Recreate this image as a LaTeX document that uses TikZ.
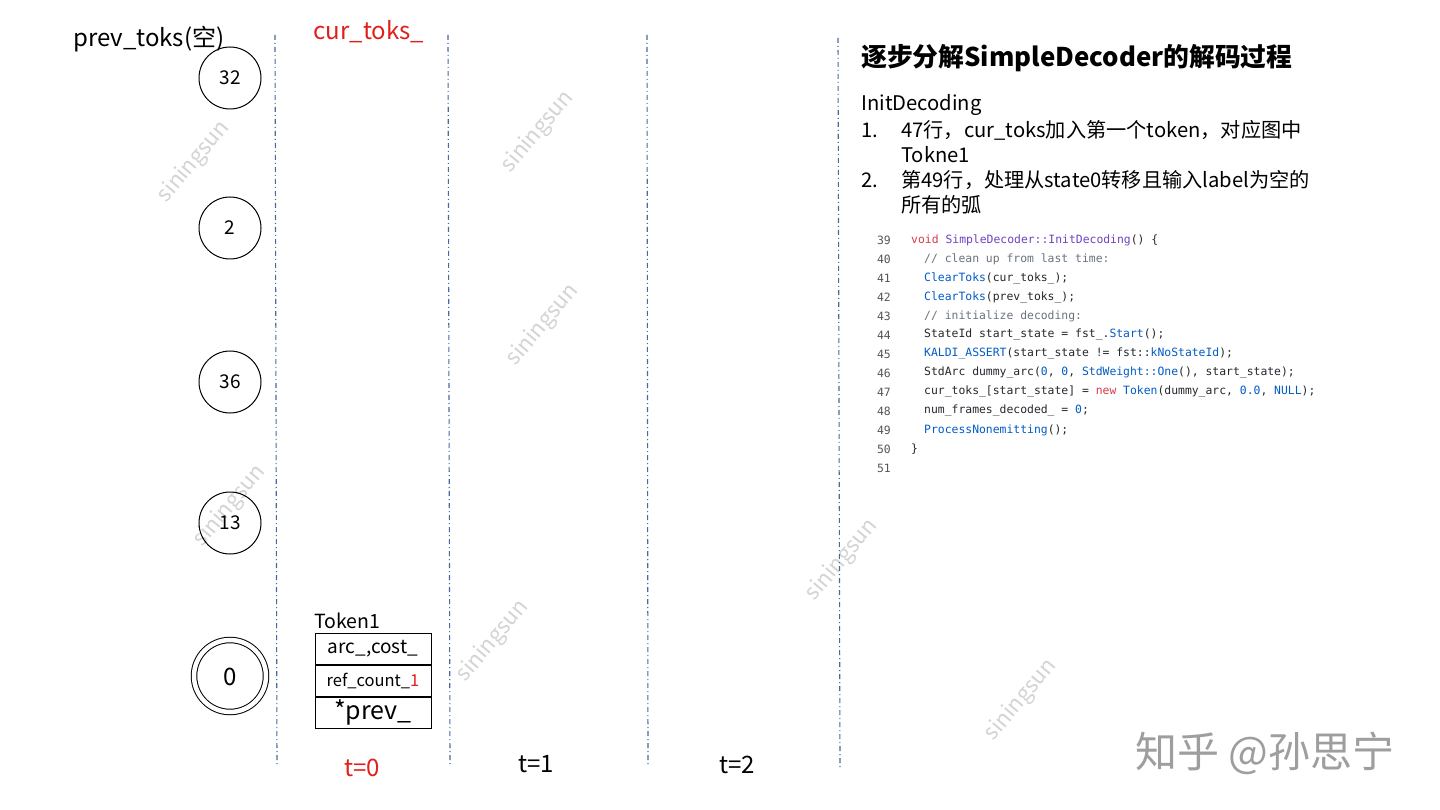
\documentclass[tikz,border=0pt]{standalone}
\usepackage{fontspec}
\setmainfont{Noto Sans CJK SC}
\setmonofont{DejaVu Sans Mono}
\definecolor{sepblue}{HTML}{4A6A9C}
\definecolor{tred}{HTML}{E0201B}
\definecolor{ckw}{HTML}{D73A49}
\definecolor{cfn}{HTML}{6F42C1}
\definecolor{cbl}{HTML}{005CC5}
\definecolor{ccm}{HTML}{6A737D}
\definecolor{ctx}{HTML}{24292E}
\definecolor{cln}{HTML}{555555}
\definecolor{wm}{HTML}{D4D4D4}
\begin{document}
\begin{tikzpicture}[x=1pt,y=-1pt,
  sep/.style={draw=sepblue,line width=1.1pt,dash pattern=on 5pt off 3pt on 1pt off 3pt},
  state/.style={draw,circle,line width=1pt,minimum size=62pt,inner sep=0pt,font=\fontsize{19}{22}\selectfont},
  cell/.style={draw,line width=1pt,minimum width=116pt,minimum height=31pt,inner sep=0pt},
  lab/.style={inner sep=0pt,font=\fontsize{24}{28}\selectfont},
  txt/.style={inner sep=0pt,anchor=west,font=\fontsize{20.2}{24}\selectfont},
  code/.style={inner sep=0pt,anchor=west,font=\ttfamily\fontsize{11.4}{13}\selectfont,text=ctx},
  lno/.style={inner sep=0pt,anchor=east,font=\ttfamily\fontsize{11.4}{13}\selectfont,text=cln},
  wmark/.style={inner sep=0pt,rotate=50,text=wm,font=\fontsize{22}{24}\selectfont}]
\useasboundingbox[fill=white] (0,0) rectangle (1440,810);
% watermarks
\node[wmark] (w1) at (194,162) {siningsun};
\node[wmark] (w2) at (538,132) {siningsun};
\node[wmark] (w3) at (543,325) {siningsun};
\node[wmark] (w4) at (230,506) {siningsun};
\node[wmark] (w5) at (493,641) {siningsun};
\node[wmark] (w6) at (842,560) {siningsun};
\node[wmark] (w7) at (1021,700) {siningsun};
% separators
\coordinate (s1t) at (275,35); \coordinate (s1b) at (277,765);
\coordinate (s2t) at (448,35); \coordinate (s2b) at (450,765);
\coordinate (s3t) at (647,35); \coordinate (s3b) at (648,765);
\coordinate (s4t) at (838,38); \coordinate (s4b) at (840,768);
\draw[sep] (s1t) -- (s1b);
\draw[sep] (s2t) -- (s2b);
\draw[sep] (s3t) -- (s3b);
\draw[sep] (s4t) -- (s4b);
% headers
\node[lab,anchor=west] (prev) at (73,39) {prev\_toks(空)};
\node[lab,text=tred] (cur) at (369,32) {cur\_toks\_};
% states
\node[state] (q32) at (230,78) {32};
\node[state] (q2) at (230,228) {2};
\node[state] (q36) at (230,382) {36};
\node[state] (q13) at (230,523) {13};
\node[state,double,double distance=4.5pt,line width=1pt,minimum size=72pt] (q0) at (230,676) {};
\node[inner sep=0pt,font=\fontsize{24}{28}\selectfont] (q0t) at (230,677) {0};
% token
\node[inner sep=0pt,font=\fontsize{19.5}{24}\selectfont] (tk) at (347,621) {Token1};
\node[cell,font=\fontsize{19}{22}\selectfont] (r1) at (373,648.5) {arc\_,cost\_};
\node[cell,anchor=north,font=\fontsize{16.5}{20}\selectfont] (r2) at (r1.south) {ref\_count\_\textcolor{tred}{1}};
\node[cell,anchor=north,font=\fontsize{25}{28}\selectfont] (r3) at (r2.south) {*prev\_};
% times
\node[lab,text=tred] (t0) at (362,768) {t=0};
\node[lab] (t1) at (536,764) {t=1};
\node[lab] (t2) at (737,765) {t=2};
% right text
\node[inner sep=0pt,anchor=west,font=\bfseries\fontsize{25.8}{30}\selectfont] (title) at (861,58) {逐步分解SimpleDecoder的解码过程};
\node[txt] (init) at (861,105) {InitDecoding};
\node[txt] (n1) at (861,130) {1.};
\node[txt] (l1) at (901,130) {47行，cur\_toks加入第一个token，对应图中};
\node[txt] (l1b) at (901,155) {Tokne1};
\node[txt] (n2) at (861,180) {2.};
\node[txt] (l2) at (901,180) {第49行，处理从state0转移且输入label为空的};
\node[txt] (l2b) at (901,205) {所有的弧};
% code
\node[lno] (k39) at (891,240) {39};
\node[lno] (k40) at (891,259) {40};
\node[lno] (k41) at (891,278) {41};
\node[lno] (k42) at (891,297) {42};
\node[lno] (k43) at (891,316) {43};
\node[lno] (k44) at (891,335) {44};
\node[lno] (k45) at (891,354) {45};
\node[lno] (k46) at (891,373) {46};
\node[lno] (k47) at (891,392) {47};
\node[lno] (k48) at (891,411) {48};
\node[lno] (k49) at (891,430) {49};
\node[lno] (k50) at (891,449) {50};
\node[lno] (k51) at (891,468) {51};
\node[code] (c39) at (911,240) {\textcolor{ckw}{void} \textcolor{cfn}{SimpleDecoder::InitDecoding}() \{};
\node[code,text=ccm] (c40) at (924,259) {// clean up from last time:};
\node[code] (c41) at (924,278) {\textcolor{cbl}{ClearToks}(cur\_toks\_);};
\node[code] (c42) at (924,297) {\textcolor{cbl}{ClearToks}(prev\_toks\_);};
\node[code,text=ccm] (c43) at (924,316) {// initialize decoding:};
\node[code] (c44) at (924,335) {StateId start\_state = fst\_.\textcolor{cbl}{Start}();};
\node[code] (c45) at (924,354) {\textcolor{cbl}{KALDI\_ASSERT}(start\_state != fst::\textcolor{cbl}{kNoStateId});};
\node[code] (c46) at (924,373) {StdArc dummy\_arc(\textcolor{cbl}{0}, \textcolor{cbl}{0}, \textcolor{cbl}{StdWeight::One}(), start\_state);};
\node[code] (c47) at (924,392) {cur\_toks\_[start\_state] = \textcolor{ckw}{new} \textcolor{cbl}{Token}(dummy\_arc, \textcolor{cbl}{0.0}, \textcolor{cbl}{NULL});};
\node[code] (c48) at (924,411) {num\_frames\_decoded\_ = \textcolor{cbl}{0};};
\node[code] (c49) at (924,430) {\textcolor{cbl}{ProcessNonemitting}();};
\node[code] (c50) at (911,449) {\}};
% zhihu mark
\node[inner sep=0pt,anchor=west,text=black!38,font=\fontsize{42}{46}\selectfont] (zh) at (1135,753) {知乎 @孙思宁};
\end{tikzpicture}
\end{document}
